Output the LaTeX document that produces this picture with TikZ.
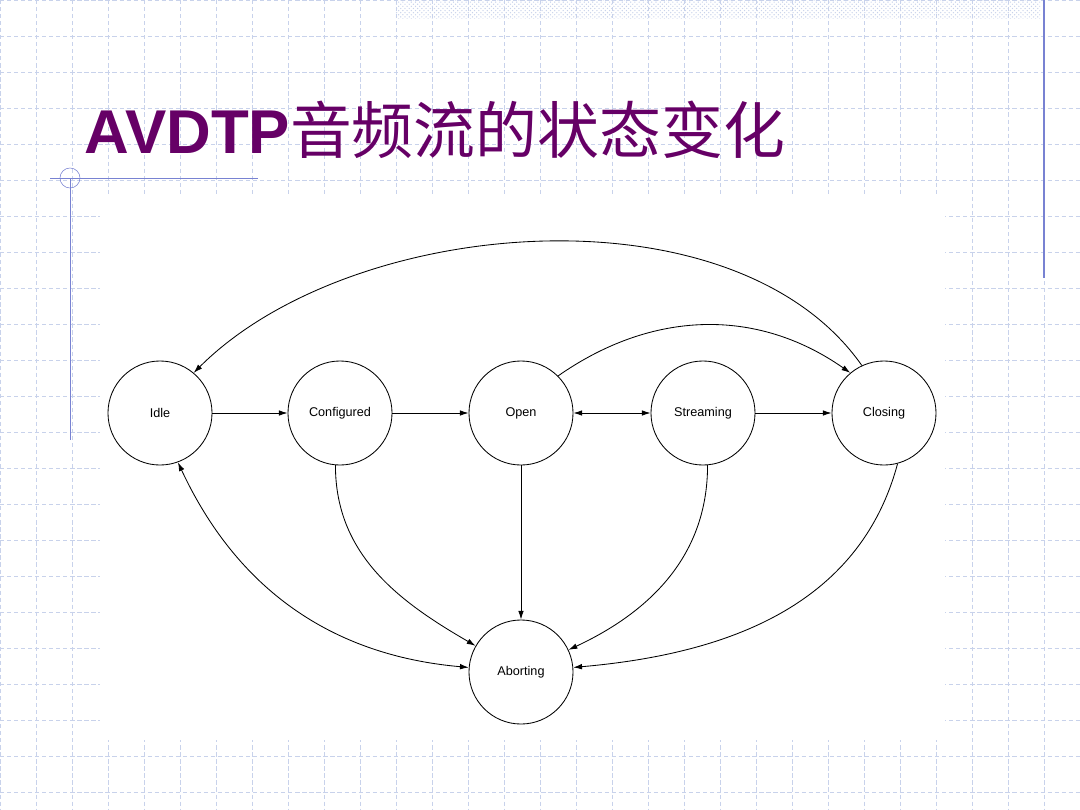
\documentclass[tikz,border=0pt]{standalone}
\usepackage{fontspec}
\setmainfont{Liberation Sans}
\newfontfamily\cjk{Noto Sans CJK SC}
\usetikzlibrary{arrows.meta,patterns}
\definecolor{titlepurple}{RGB}{102,0,102}
\definecolor{gridblue}{RGB}{200,210,235}
\definecolor{barblue}{RGB}{120,130,210}
\tikzset{
  state/.style={draw,circle,semithick,minimum size=2.6cm,inner sep=0pt,font=\small},
  trans/.style={-{Latex[length=2.2mm,width=1.4mm]},semithick},
  both/.style={{Latex[length=2.2mm,width=1.4mm]}-{Latex[length=2.2mm,width=1.4mm]},semithick}
}
\begin{document}
\begin{tikzpicture}[x=0.025cm,y=-0.025cm]
	%background and grid------------------------
	\useasboundingbox (0,0) rectangle (1080,810);
	\fill[white] (0,0) rectangle (1080,810);
	\foreach \gx in {0,36,...,1080} \draw[gridblue,densely dashed,very thin] (\gx,0) -- (\gx,810);
	\foreach \gy in {0,36,...,810} \draw[gridblue,densely dashed,very thin] (0,\gy) -- (1080,\gy);
	\fill[white] (100,195) rectangle (945,740); %diagram area
	\fill[pattern=crosshatch dots,pattern color=gridblue] (395,0) rectangle (1040,18); %top bar
	\draw[barblue,thick] (1044,0) -- (1044,278); %right line
	\draw[barblue] (50,178) -- (258,178); %left decoration
	\draw[barblue] (70,178) circle (10);
	\draw[barblue] (70,178) -- (70,440);
	%title----------------------------------------
	\node[anchor=west,text=titlepurple,font=\cjk\fontsize{44}{46}\selectfont] (title) at (80,130) {{\fontspec{Liberation Sans}\bfseries AVDTP}音频流的状态变化};
	%states---------------------------------------
	\node[state] (idle) at (160,413) {Idle};
	\node[state] (conf) at (340,413) {Configured};
	\node[state] (open) at (521,413) {Open};
	\node[state] (strm) at (703,413) {Streaming};
	\node[state] (clos) at (884,413) {Closing};
	\node[state] (abrt) at (521,672) {Aborting};
	%transitions----------------------------------
	\draw[trans] (clos.115) to[out=125,in=45,looseness=0.85] (idle.50); %back to idle
	\draw[trans] (idle) -- (conf);
	\draw[trans] (conf) -- (open);
	\draw[both] (open) -- (strm);
	\draw[trans] (strm) -- (clos);
	\draw[trans] (open.45) to[out=35,in=145] (clos.130); %open to closing
	\draw[trans] (open) -- (abrt);
	\draw[trans] (conf.265) to[out=-90,in=150] (abrt.150); %configured abort
	\draw[both] (idle.290) to[out=-65,in=175] (abrt.175); %idle abort
	\draw[trans] (strm.275) to[out=-90,in=25] (abrt.25); %streaming abort
	\draw[trans] (clos.285) to[out=-105,in=5] (abrt.5); %closing abort
\end{tikzpicture}
\end{document}
